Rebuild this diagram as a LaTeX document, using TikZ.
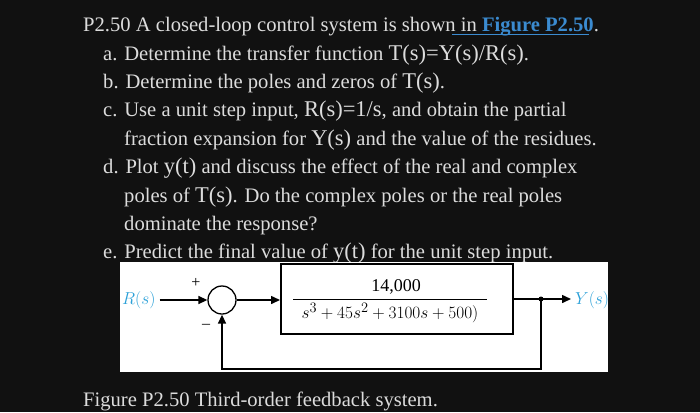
\documentclass[tikz,border=0pt]{standalone}
\usepackage{fontspec}
\setmainfont{Liberation Serif}
\usetikzlibrary{arrows.meta}
\definecolor{bg}{HTML}{111111}
\definecolor{txt}{HTML}{DCDCDC}
\definecolor{lnk}{HTML}{3B8BD0}
\definecolor{sig}{HTML}{2AA0D8}
\newcommand{\bigt}[1]{{\fontsize{22.5}{24}\selectfont #1}}
\tikzset{
 line/.style={line width=1.5pt,black},
 arr/.style={line, -{Triangle[length=9pt,width=8pt]}},
 tline/.style={anchor=base west,text=txt,font=\fontsize{20.6}{24}\selectfont,inner sep=0pt},
 sigl/.style={text=sig,font=\fontsize{18}{20}\selectfont\itshape,inner sep=0pt},
}
\begin{document}
\begin{tikzpicture}[x=1pt,y=-1pt]
\useasboundingbox (0,0) rectangle (700,412);
\fill[bg] (0,0) rectangle (700,412);
\node[tline] (t0) at (83,32) {P2.50 A closed-loop control system is shown in {\bfseries\color{lnk}Figure P2.50}.};
\draw[lnk,line width=1pt] (452,35) -- (589,35);
\node[tline] (t1) at (103,60) {a. Determine the transfer function \bigt{T(s)=Y(s)/R(s)}.};
\node[tline] (t2) at (103,88) {b. Determine the poles and zeros of \bigt{T(s)}.};
\node[tline] (t3) at (103,116) {c. Use a unit step input, \bigt{R(s)=1/s}, and obtain the partial};
\node[tline] (t4) at (124,145) {fraction expansion for \bigt{Y(s)} and the value of the residues.};
\node[tline] (t5) at (103,173) {d. Plot \bigt{y(t)} and discuss the effect of the real and complex};
\node[tline] (t6) at (124,202) {poles of \bigt{T(s)}. Do the complex poles or the real poles};
\node[tline] (t7) at (124,230) {dominate the response?};
\node[tline] (t8) at (103,258) {e. Predict the final value of \bigt{y(t)} for the unit step input.};
\fill[white] (120,262) rectangle (608,372);
\node[sigl,anchor=west] (R) at (122,300) {$R(s)$};
\node[draw,line width=1.3pt,circle,minimum size=28pt,inner sep=0pt] (S) at (222,300) {};
\node[draw,line width=1.5pt,minimum width=232pt,minimum height=70pt,anchor=north west] (G) at (280,263) {};
\node[font=\fontsize{18}{20}\selectfont] (num) at (396,287) {14,000};
\node[font=\fontsize{19}{20}\selectfont] (den) at (390,313) {$s^3+45s^2+3100s+500)$};
\draw[line width=0.8pt] (293,299) -- (487,299);
\node[sigl,anchor=west] (Y) at (575,300) {$Y(s)$};
\node[font=\fontsize{16}{18}\selectfont] (plus) at (196,283) {+};
\node[font=\fontsize{16}{18}\selectfont] (minus) at (206,326) {--};
\coordinate (B) at (541,299);
\coordinate (C1) at (541,369);
\coordinate (C2) at (222,369);
\draw[arr] (R.east) ++(4,0) -- (S.west);
\draw[arr] (S.east) -- (G.west |- S.east);
\draw[line] (G.east |- B) -- (B);
\draw[arr] (B) -- (571,299);
\fill (B) circle (2.5pt);
\draw[arr] (B) -- (C1) -- (C2) -- (S.south);
\node[anchor=base west,text=txt,font=\fontsize{20.6}{24}\selectfont,inner sep=0pt] (cap) at (83,406) {Figure P2.50 Third-order feedback system.};
\end{tikzpicture}
\end{document}
